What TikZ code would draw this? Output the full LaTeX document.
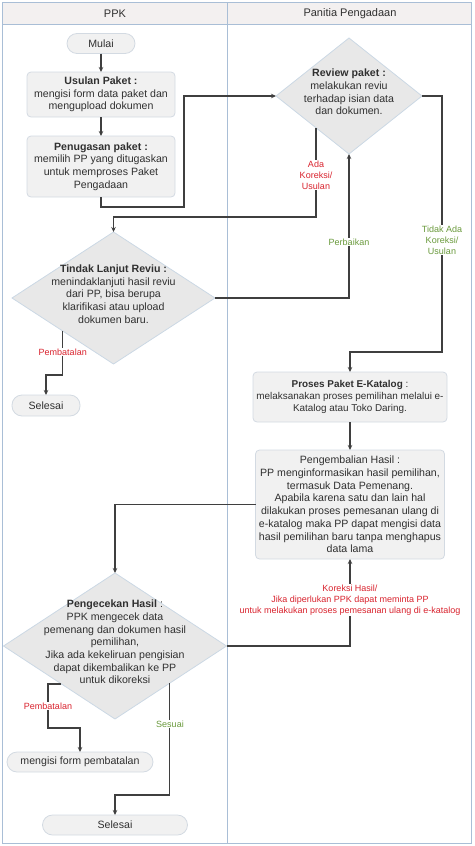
\documentclass[tikz,border=0pt]{standalone}
\usepackage{fontspec}
\setmainfont{Liberation Sans}
\usetikzlibrary{shapes.geometric,arrows.meta,calc}
\definecolor{lane}{HTML}{A9BED6}
\definecolor{hdr}{HTML}{F3F0F0}
\definecolor{boxfill}{HTML}{F1F1F1}
\definecolor{boxline}{HTML}{D3DAE2}
\definecolor{diafill}{HTML}{E8E8E8}
\definecolor{dialine}{HTML}{CBD8E4}
\definecolor{connc}{HTML}{3F3F3F}
\definecolor{lred}{HTML}{D9232E}
\definecolor{lgreen}{HTML}{6A9A3C}
\definecolor{txt}{HTML}{303030}
\newcommand{\dtxt}[1]{\smash{\makebox[0pt]{\begin{tabular}{@{}c@{}}#1\end{tabular}}}}
\begin{document}
\begin{tikzpicture}[x=1pt,y=-1pt,
  body/.style={font=\fontsize{10.6}{12.7}\selectfont, text=txt},
  procbox/.style={body, draw=boxline, fill=boxfill, rounded corners=4pt, line width=0.8pt, align=center, inner xsep=2pt, inner ysep=2pt, outer sep=0pt},
  term/.style={body, draw=boxline, fill=boxfill, rounded corners=10pt, line width=0.8pt, inner sep=0pt, outer sep=0pt},
  dia/.style={body, diamond, draw=dialine, fill=diafill, line width=0.8pt, inner sep=0pt, outer sep=0pt},
  conn/.style={draw=connc, line width=1.1pt},
  arr/.style={conn, -{Stealth[length=5pt,width=4.5pt]}},
  lbl/.style={font=\fontsize{9}{11}\selectfont, fill=white, inner sep=1pt, align=center},
  hd/.style={font=\fontsize{11}{13}\selectfont, text=txt},
]
\useasboundingbox (0,0) rectangle (474,846);
% lanes
\fill[hdr] (2.5,2.5) rectangle (471.5,24);
\draw[lane, line width=0.8pt] (2.5,24) -- (471.5,24);
\draw[lane, line width=1.5pt] (2.5,2.5) rectangle (471.5,843.5);
\draw[lane, line width=1.5pt] (227.5,2.5) -- (227.5,843.5);
\node[hd] (hA) at (115,13.5) {PPK};
\node[hd] (hB) at (350,13.5) {Panitia Pengadaan};

% nodes
\node[term, minimum width=68pt, minimum height=20pt] (start) at (101,43.5) {Mulai};
\node[procbox, minimum width=148pt, minimum height=45pt] (us) at (101,94.5)
  {\textbf{Usulan Paket :}\\mengisi form data paket dan\\mengupload dokumen};
\node[procbox, minimum width=148pt, minimum height=61pt] (pen) at (101,166.5)
  {\textbf{Penugasan paket :}\\memilih PP yang ditugaskan\\untuk memproses Paket\\Pengadaan};
\node[dia, minimum width=146pt, minimum height=116pt] (rv) at (349,96)
  {\dtxt{\textbf{Review paket :}\\melakukan reviu\\terhadap isian data\\dan dokumen.}};
\node[dia, minimum width=203pt, minimum height=132pt] (td) at (113.5,298)
  {\dtxt{\textbf{Tindak Lanjut Reviu :}\\menindaklanjuti hasil reviu\\dari PP, bisa berupa\\klarifikasi atau upload\\dokumen baru.}};
\node[term, minimum width=68pt, minimum height=21pt] (s1) at (46,405.5) {Selesai};
\node[procbox, font=\fontsize{9.9}{12.4}\selectfont, minimum width=194pt, minimum height=50pt] (pr) at (350,397)
  {\textbf{Proses Paket E-Katalog} :\\melaksanakan proses pemilihan melalui e-\\Katalog atau Toko Daring.};
\node[procbox, minimum width=189pt, minimum height=109pt] (pg) at (350,504.5)
  {Pengembalian Hasil :\\PP menginformasikan hasil pemilihan,\\termasuk Data Pemenang.\\Apabila karena satu dan lain hal\\dilakukan proses pemesanan ulang di\\e-katalog maka PP dapat mengisi data\\hasil pemilihan baru tanpa menghapus\\data lama};
\node[dia, minimum width=223pt, minimum height=146pt] (pc) at (115,646)
  {\dtxt{\textbf{Pengecekan Hasil} :\\PPK mengecek data\\pemenang dan dokumen hasil\\pemilihan,\\Jika ada kekeliruan pengisian\\dapat dikembalikan ke PP\\untuk dikoreksi}};
\node[term, minimum width=146pt, minimum height=20pt] (bt) at (80,762) {mengisi form pembatalan};
\node[term, minimum width=145pt, minimum height=20pt] (s2) at (115,825) {Selesai};

% helper coordinates
\coordinate (c1) at (184,207);
\coordinate (p1) at ($(rv.west)!0.548!(rv.south)$);
\coordinate (c2) at (113.5,217);
\coordinate (c3) at (442,352);
\coordinate (p2) at ($(td.west)!0.5!(td.south)$);
\coordinate (c4) at (46,375);
\coordinate (p3) at ($(pc.west)!0.52!(pc.south)$);
\coordinate (c5) at (48,728);
\coordinate (p4) at ($(pc.south)!0.49!(pc.east)$);
\coordinate (c6) at (115,795);

% connectors
\draw[arr] (start) -- (us);
\draw[arr] (us) -- (pen);
\draw[arr] (pen.south) |- (c1) |- (rv.west);
\draw[arr] (p1) |- (c2) -- (td.north);
\draw[arr] (td.east) -| (rv.south);
\draw[arr] (rv.east) -| (c3) -| (pr.north);
\draw[arr] (p2) |- (c4) -- (s1.north);
\draw[arr] (pr) -- (pg);
\draw[arr] (pg.west) -| (pc.north);
\draw[arr] (p3) -| (c5) -| (bt.north);
\draw[arr] (p4) |- (c6) -- (s2.north);
\draw[arr] (pc.east) -| (pg.south);

% labels
\node[lbl, text=lred] (l1) at (316,175) {Ada\\Koreksi/\\Usulan};
\node[lbl, text=lgreen] (l2) at (349,242) {Perbaikan};
\node[lbl, text=lgreen] (l3) at (442,240) {Tidak Ada\\Koreksi/\\Usulan};
\node[lbl, text=lred] (l4) at (62.75,352) {Pembatalan};
\node[lbl, text=lred] (l5) at (48,706) {Pembatalan};
\node[lbl, text=lgreen] (l6) at (170,724) {Sesuai};
\node[lbl, text=lred] (l7) at (350,600) {Koreksi Hasil/\\Jika diperlukan PPK dapat meminta PP\\untuk melakukan proses pemesanan ulang di e-katalog};
\end{tikzpicture}
\end{document}
